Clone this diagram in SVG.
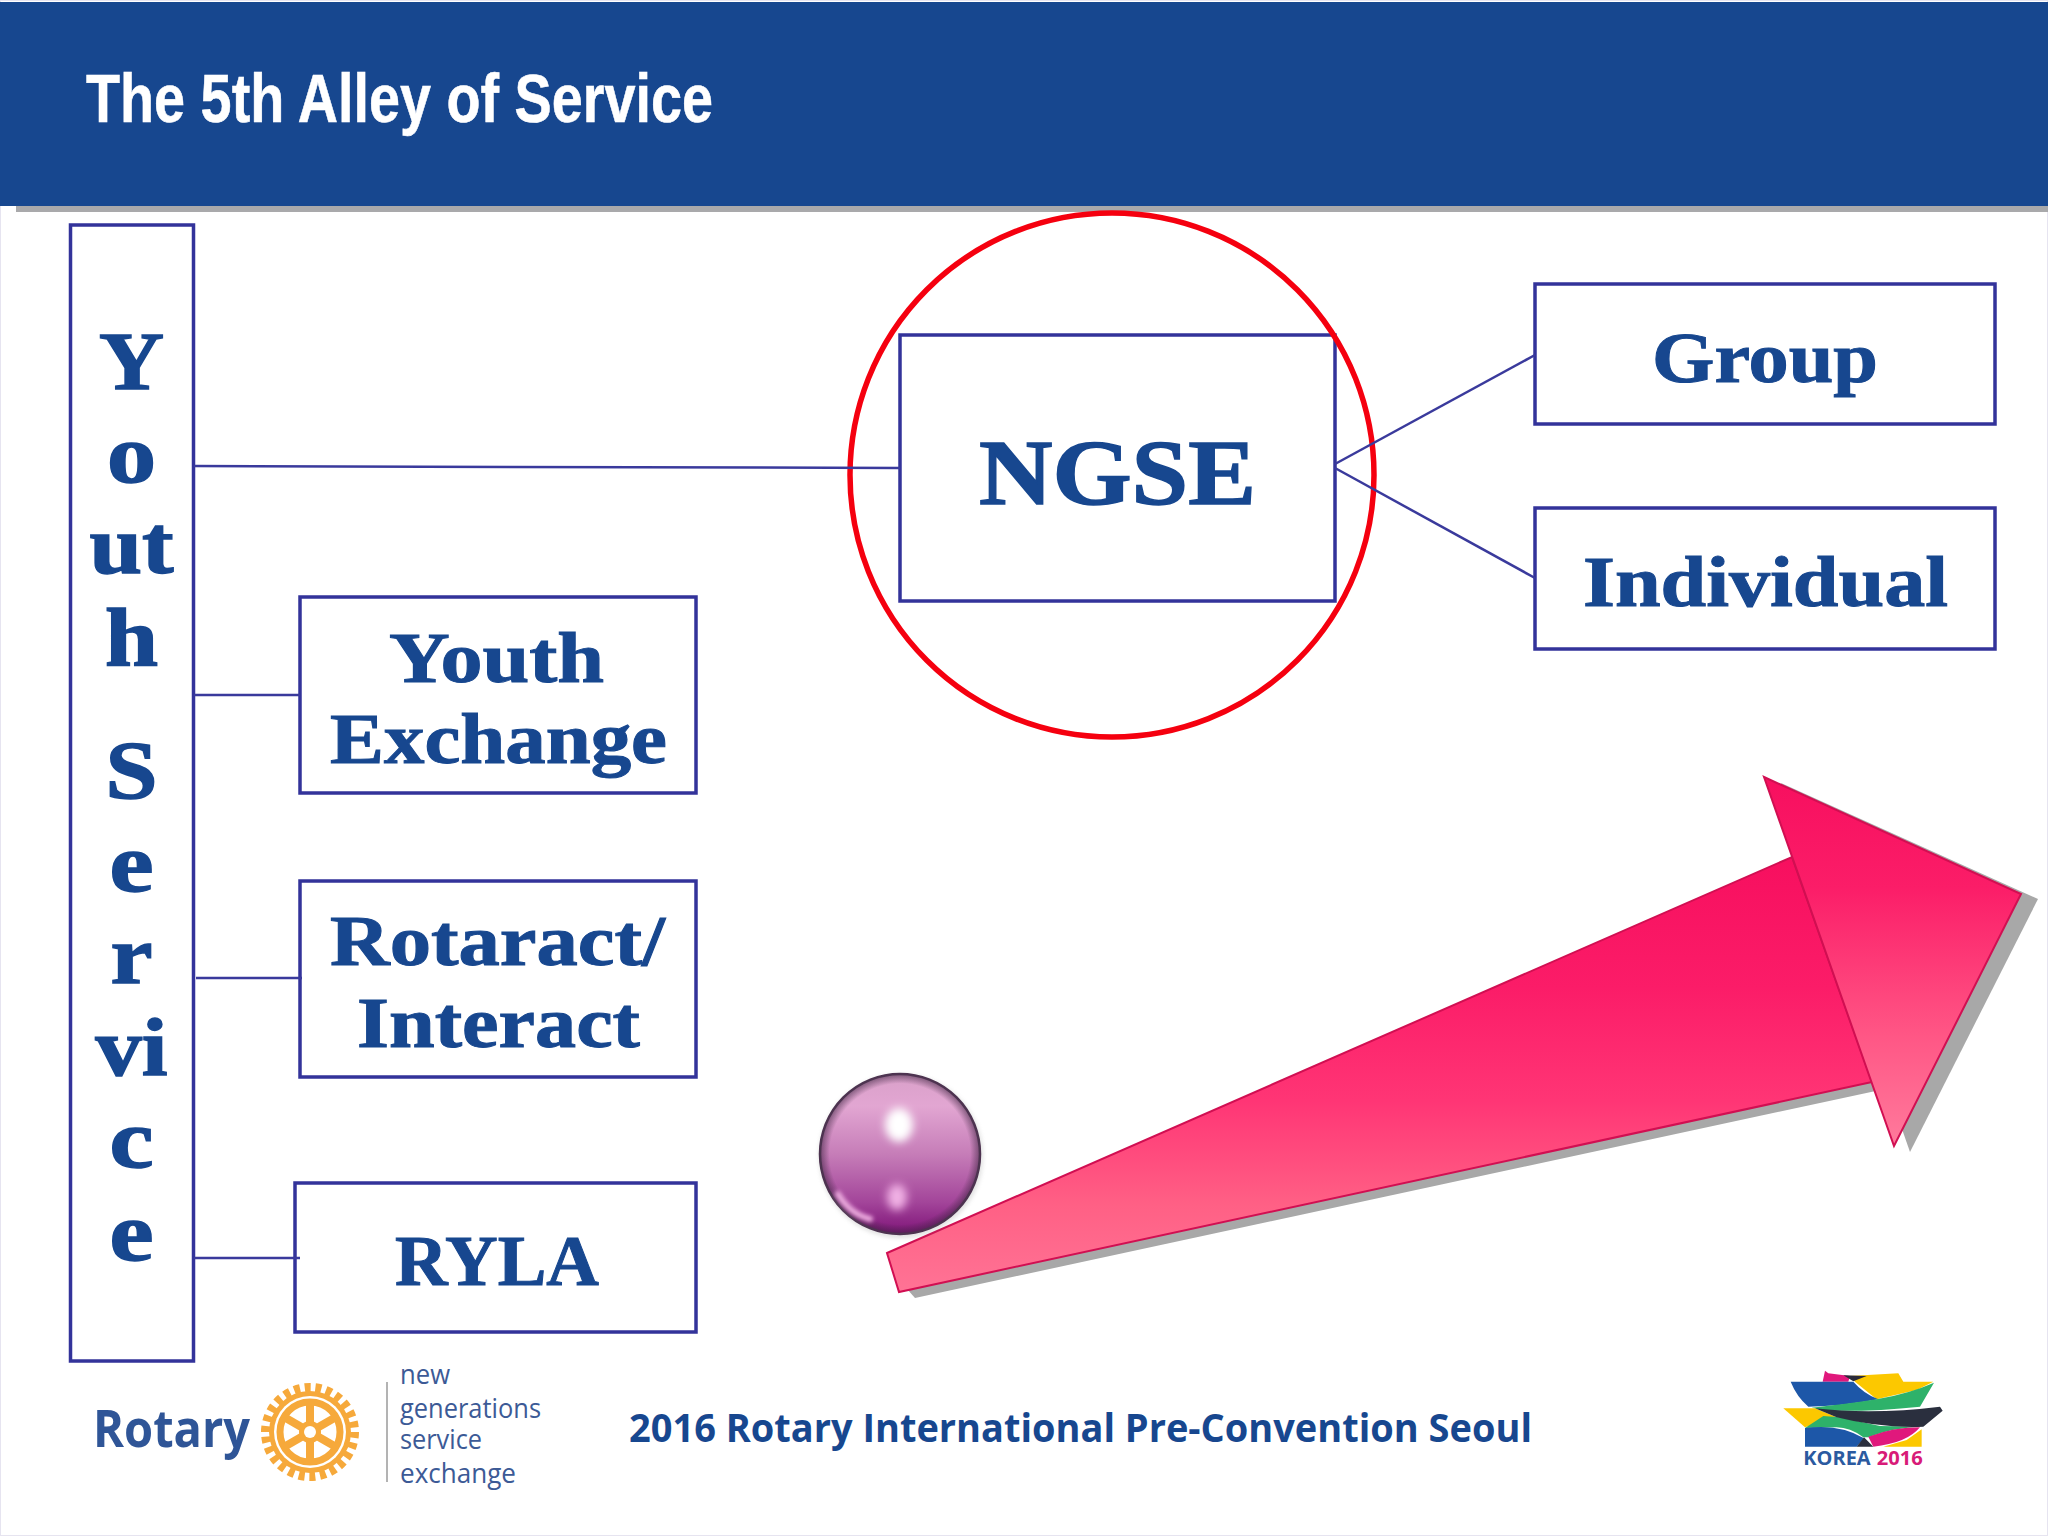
<svg xmlns="http://www.w3.org/2000/svg" width="2048" height="1536" viewBox="0 0 2048 1536">
<style>
.box{fill:#fff;stroke:#33339a;stroke-width:3.5}
.lab{font-family:"Liberation Serif",serif;font-weight:700;fill:#17478f;stroke:#17478f;stroke-width:1;font-size:71px}
.v{font-size:82px;text-anchor:middle;stroke-width:1.5}
.conn{fill:none;stroke:#3a3a9c;stroke-width:2.5}
.ngse{font-family:"Open Sans","Noto Sans",sans-serif;fill:#3c5a96;font-size:28px}
.shadow{fill:#a8a8a8}
.ar{stroke:#d10f52;stroke-width:2}
</style>
<defs>
<linearGradient id="ag" x1="0" y1="0" x2="0" y2="1"><stop offset="0" stop-color="#f70f5f"/><stop offset=".3" stop-color="#fb1c68"/><stop offset=".56" stop-color="#ff3575"/><stop offset=".8" stop-color="#ff6085"/><stop offset="1" stop-color="#ff7395"/></linearGradient>
<linearGradient id="ag2" x1="0" y1="0" x2="0" y2="1"><stop offset="0" stop-color="#f70f5f"/><stop offset=".3" stop-color="#fb1d68"/><stop offset=".7" stop-color="#ff5685"/><stop offset="1" stop-color="#ff7a9c"/></linearGradient>
<linearGradient id="bg" x1="0" y1="0" x2="0" y2="1"><stop offset="0" stop-color="#d9a0c9"/><stop offset=".2" stop-color="#e2a6d2"/><stop offset=".5" stop-color="#c67db8"/><stop offset=".8" stop-color="#a3459a"/><stop offset="1" stop-color="#7e1478"/></linearGradient>
<radialGradient id="edge" cx=".5" cy=".5" r=".5"><stop offset=".88" stop-color="#3d2440" stop-opacity="0"/><stop offset="1" stop-color="#3d2440" stop-opacity=".6"/></radialGradient>
<filter id="bl" x="-60%" y="-60%" width="220%" height="220%"><feGaussianBlur stdDeviation="4"/></filter>
<filter id="bl2" x="-50%" y="-50%" width="200%" height="200%"><feGaussianBlur stdDeviation="2"/></filter>
</defs>
<rect x="0.5" y="0.5" width="2047" height="1535" fill="#fff" stroke="#e6e4f0"/>

<g id="header">
<rect x="16" y="206" width="2032" height="6" fill="#a9a9ab"/>
<rect x="0" y="2" width="2048" height="204" fill="#17478f"/>
<text x="86" y="122" font-family="Liberation Sans,sans-serif" font-weight="700" font-size="69" fill="#fff" stroke="#fff" stroke-width=".6" textLength="627" lengthAdjust="spacingAndGlyphs">The 5th Alley of Service</text>
</g>

<g id="youth-service">
<rect class="box" x="70.5" y="225" width="123" height="1136"/>
<text class="lab v" x="131.500" y="389" textLength="65" lengthAdjust="spacingAndGlyphs">Y</text>
<text class="lab v" x="131.500" y="482" textLength="49" lengthAdjust="spacingAndGlyphs">o</text>
<text class="lab v" x="131.500" y="573" textLength="84" lengthAdjust="spacingAndGlyphs">ut</text>
<text class="lab v" x="131.500" y="665" textLength="53" lengthAdjust="spacingAndGlyphs">h</text>
<text class="lab v" x="131.500" y="798" textLength="52" lengthAdjust="spacingAndGlyphs">S</text>
<text class="lab v" x="131.500" y="891" textLength="44" lengthAdjust="spacingAndGlyphs">e</text>
<text class="lab v" x="131.500" y="983" textLength="42" lengthAdjust="spacingAndGlyphs">r</text>
<text class="lab v" x="131.500" y="1075" textLength="72" lengthAdjust="spacingAndGlyphs">vi</text>
<text class="lab v" x="131.500" y="1167" textLength="44" lengthAdjust="spacingAndGlyphs">c</text>
<text class="lab v" x="131.500" y="1260" textLength="44" lengthAdjust="spacingAndGlyphs">e</text>
</g>

<g id="youth-exchange">
<rect class="box" x="300" y="597" width="396" height="196"/>
<text class="lab" x="389" y="682" textLength="215" lengthAdjust="spacingAndGlyphs">Youth</text>
<text class="lab" x="330" y="763" textLength="337" lengthAdjust="spacingAndGlyphs">Exchange</text>
</g>
<g id="rotaract-interact">
<rect class="box" x="300" y="881" width="396" height="196"/>
<text class="lab" x="330" y="965" textLength="335" lengthAdjust="spacingAndGlyphs">Rotaract/</text>
<text class="lab" x="357" y="1047" textLength="283" lengthAdjust="spacingAndGlyphs">Interact</text>
</g>
<g id="ryla">
<rect class="box" x="295" y="1183" width="401" height="149"/>
<text class="lab" x="395" y="1285" textLength="204" lengthAdjust="spacingAndGlyphs">RYLA</text>
</g>

<g id="ngse">
<rect class="box" x="900" y="335" width="435" height="266"/>
<text class="lab" x="979" y="504" style="font-size:94px;stroke-width:1.5" textLength="277" lengthAdjust="spacingAndGlyphs">NGSE</text>
</g>
<g id="group">
<rect class="box" x="1535" y="284" width="460" height="140"/>
<text class="lab" x="1652" y="382" textLength="226" lengthAdjust="spacingAndGlyphs">Group</text>
</g>
<g id="individual">
<rect class="box" x="1535" y="508" width="460" height="141"/>
<text class="lab" x="1583" y="606" textLength="365" lengthAdjust="spacingAndGlyphs">Individual</text>
</g>

<circle id="highlight-circle" cx="1112" cy="475" r="262" fill="none" stroke="#f5000f" stroke-width="5.500"/>

<g id="connectors">
<line class="conn" x1="194" y1="466" x2="900" y2="468"/>
<line class="conn" x1="194" y1="695" x2="300" y2="695"/>
<line class="conn" x1="196" y1="978" x2="302" y2="978"/>
<line class="conn" x1="194" y1="1258" x2="300" y2="1258"/>
<line class="conn" x1="1335" y1="464" x2="1535" y2="355"/>
<line class="conn" x1="1335" y1="468" x2="1535" y2="578"/>
</g>

<g id="arrow">
<polygon class="shadow" points="915,1298 1885,1089 1900,1070 1880,1060 899,1280"/>
<polygon class="shadow" points="1781,783 2038,899 1910,1152"/>
<polygon class="ar" fill="url(#ag)" points="887,1253 1792,857 1872,1082 899,1292"/>
<polygon class="ar" fill="url(#ag2)" points="1764,777 2021,894 1894,1146"/>
</g>

<g id="ball">
<circle cx="901" cy="1156" r="82" fill="#888" opacity=".25" filter="url(#bl2)"/>
<circle cx="900" cy="1154" r="80" fill="url(#bg)"/>
<circle cx="900" cy="1154" r="80" fill="url(#edge)" stroke="#4d3350" stroke-width="2.500"/>
<ellipse cx="899" cy="1125" rx="14" ry="17" fill="#fff" filter="url(#bl)"/>
<ellipse cx="897" cy="1197" rx="10" ry="13" fill="#f0b0e4" filter="url(#bl)"/>
<path d="M838 1194 Q850 1214 870 1219" fill="none" stroke="#f0aee2" stroke-width="6" stroke-linecap="round" filter="url(#bl2)"/>
</g>

<g id="rotary-logo">
<text x="93" y="1447" font-family="Open Sans,Noto Sans,sans-serif" font-weight="700" font-size="52" fill="#2f5597" textLength="157" lengthAdjust="spacingAndGlyphs">Rotary</text>
<circle cx="310" cy="1432" r="44.500" fill="none" stroke="#f6a93b" stroke-width="9" stroke-dasharray="6 4.740"/>
<circle cx="310" cy="1432" r="41" fill="#f6a93b"/>
<circle cx="310" cy="1432" r="36" fill="#fff"/>
<circle cx="310" cy="1432" r="30" fill="none" stroke="#f6a93b" stroke-width="7"/>
<g stroke="#f6a93b" stroke-width="8">
<line x1="310" y1="1402" x2="310" y2="1462"/>
<line x1="284" y1="1417" x2="336" y2="1447"/>
<line x1="284" y1="1447" x2="336" y2="1417"/>
</g>
<circle cx="310" cy="1432" r="11" fill="#f6a93b"/>
<circle cx="310" cy="1432" r="6" fill="#fff"/>
<line x1="387" y1="1382" x2="387" y2="1482" stroke="#9a9a9a" stroke-width="1.500"/>
<text class="ngse" x="400" y="1384" textLength="50" lengthAdjust="spacingAndGlyphs">new</text>
<text class="ngse" x="400" y="1418" textLength="141" lengthAdjust="spacingAndGlyphs">generations</text>
<text class="ngse" x="400" y="1449" textLength="82" lengthAdjust="spacingAndGlyphs">service</text>
<text class="ngse" x="400" y="1483" textLength="116" lengthAdjust="spacingAndGlyphs">exchange</text>
</g>

<text id="footer" x="629" y="1442" font-family="Open Sans,Noto Sans,sans-serif" font-weight="700" font-size="39" fill="#17478f" textLength="903" lengthAdjust="spacingAndGlyphs">2016 Rotary International Pre-Convention Seoul</text>

<g id="korea-logo" transform="translate(1740 1340) scale(.33333)">
<polygon fill="#e0187c" points="248,125 255,92 265,100 330,108 325,125"/>
<polygon fill="#fcc800" points="345,125 330,108 475,100 490,125 580,125 530,150 410,178"/>
<polygon fill="#2a2a38" points="310,106 380,108 340,124"/>
<path fill="#1d57a8" d="M152 125 L340 125 Q370 160 415 178 Q300 200 205 200 Q170 170 152 125Z"/>
<path fill="#2eb26a" d="M582 128 L540 200 Q400 215 260 212 L215 203 Q300 195 410 178 Q510 160 582 128Z"/>
<polygon fill="#fcc800" points="130,205 225,205 290,232 195,262"/>
<path fill="#2eb26a" d="M250 228 L300 232 L420 258 L545 260 Q460 262 385 292 L370 292 Q330 262 290 262 L195 264Z"/>
<path fill="#2a2f3e" d="M225 205 Q400 225 600 200 L608 212 L550 260 Q420 265 290 232Z"/>
<path fill="#1d57a8" d="M195 264 Q300 250 372 295 L350 320 L195 320Z"/>
<polygon fill="#fcc800" points="545,268 545,320 430,320 500,300"/>
<polygon fill="#2a2f3e" points="372,292 400,320 350,320"/>
<path fill="#e0187c" d="M385 290 Q460 262 540 262 Q500 310 400 320Z"/>
<text x="190" y="375" font-family="Open Sans,Noto Sans,sans-serif" font-weight="700" font-size="56" fill="#2b5aa0" textLength="202" lengthAdjust="spacingAndGlyphs">KOREA</text>
<text x="410" y="375" font-family="Open Sans,Noto Sans,sans-serif" font-weight="700" font-size="56" fill="#d81b78" textLength="138" lengthAdjust="spacingAndGlyphs">2016</text>
</g>
</svg>
